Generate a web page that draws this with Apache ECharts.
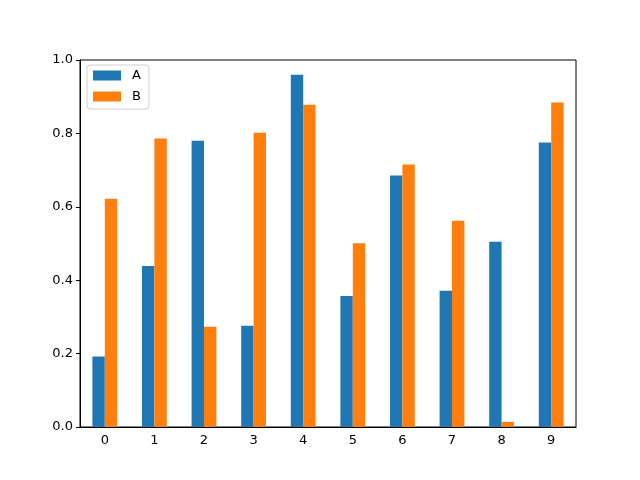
<!DOCTYPE html>
<html>
<head>
<meta charset="utf-8">
<script src="https://cdn.jsdelivr.net/npm/echarts@6/dist/echarts.min.js"></script>
<style>html,body{margin:0;padding:0;background:#fff;}#c{width:640px;height:480px;}</style>
</head>
<body>
<div id="c"></div>
<script>
var categories = ['0','1','2','3','4','5','6','7','8','9'];
var seriesA = [0.192, 0.439, 0.780, 0.276, 0.960, 0.357, 0.685, 0.371, 0.505, 0.775];
var seriesB = [0.622, 0.786, 0.273, 0.802, 0.878, 0.501, 0.715, 0.562, 0.014, 0.884];
var yTicks = {min: 0, max: 1, interval: 0.2};

var chart = echarts.init(document.getElementById('c'), null, {renderer: 'canvas'});
var font = 'DejaVu Sans';
chart.setOption({
  animation: false,
  textStyle: {fontFamily: font},
  grid: {left: 80, right: 64, top: 60, bottom: 53, show: true, borderColor: '#000', borderWidth: 1, backgroundColor: 'transparent'},
  legend: {
    orient: 'vertical', left: 87, top: 65,
    itemWidth: 28, itemHeight: 10, itemGap: 8,
    padding: [4, 8, 6, 6],
    borderColor: '#d0d0d0', borderWidth: 1, borderRadius: 3,
    backgroundColor: '#fff',
    textStyle: {fontFamily: font, fontSize: 13, color: '#000', padding: [0, 0, 0, 6]},
    data: [{name: 'A', icon: 'rect'}, {name: 'B', icon: 'rect'}]
  },
  xAxis: {
    type: 'category', data: categories,
    axisLine: {lineStyle: {color: '#000', width: 1}},
    axisTick: {alignWithLabel: true, length: 4, lineStyle: {color: '#000'}},
    axisLabel: {color: '#000', fontSize: 13, fontFamily: font, margin: 7},
    splitLine: {show: false}
  },
  yAxis: {
    type: 'value', min: yTicks.min, max: yTicks.max, interval: yTicks.interval,
    axisLine: {show: true, lineStyle: {color: '#000', width: 1}},
    axisTick: {show: true, length: 4, lineStyle: {color: '#000'}},
    axisLabel: {color: '#000', fontSize: 13, fontFamily: font, margin: 7, formatter: function (v) { return v.toFixed(1); }},
    splitLine: {show: false}
  },
  series: [
    {name: 'A', type: 'bar', data: seriesA, barWidth: '25%', barGap: '0%', itemStyle: {color: '#1f77b4'}},
    {name: 'B', type: 'bar', data: seriesB, barWidth: '25%', barGap: '0%', itemStyle: {color: '#ff7f0e'}}
  ]
});
</script>
</body>
</html>
